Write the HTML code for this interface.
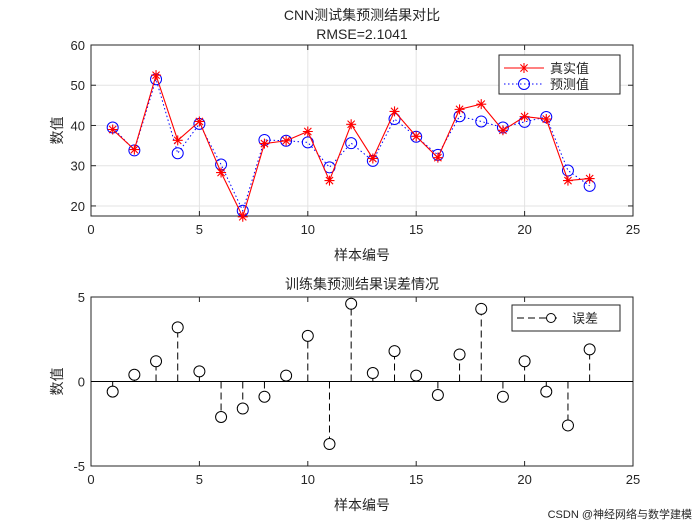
<!DOCTYPE html>
<html><head><meta charset="utf-8"><style>
body{margin:0;background:#fff}
svg text{font-family:"Liberation Sans","Noto Sans CJK SC",sans-serif;fill:#262626}
</style></head><body>
<svg id="c" width="700" height="525" xmlns="http://www.w3.org/2000/svg">
<rect width="700" height="525" fill="#fff"/>
<g id="topAx"></g>
<g id="botAx"></g>
</svg>
<script>
const xs = [1,2,3,4,5,6,7,8,9,10,11,12,13,14,15,16,17,18,19,20,21,22,23];
const trueVals = [39,34,52.5,36.3,41,28.3,17.3,35.5,36.2,38.5,26.3,40.3,31.8,43.5,37.3,32,44,45.3,38.8,42.2,41.6,26.3,26.8];
const predVals = [39.5,33.8,51.5,33.1,40.4,30.3,18.8,36.4,36.2,35.8,29.6,35.6,31.2,41.6,37.2,32.7,42.3,41,39.5,40.9,42.1,28.8,25];
const errVals = [-0.6,0.4,1.2,3.2,0.6,-2.1,-1.6,-0.9,0.35,2.7,-3.7,4.6,0.5,1.8,0.35,-0.8,1.6,4.3,-0.9,1.2,-0.6,-2.6,1.9];
const xTicks = [0,5,10,15,20,25];
const yTicksTop = [20,30,40,50,60];
const yTicksBot = [-5,0,5];

const NS="http://www.w3.org/2000/svg";
function mk(p,tag,a,txt){const e=document.createElementNS(NS,tag);for(const k in a)e.setAttribute(k,a[k]);if(txt!==undefined)e.textContent=txt;p.appendChild(e);return e;}
const L=91,R=633;
const sx=v=>L+(v-0)/(25-0)*(R-L);
const T1=45,B1=216,ymin1=17.5,ymax1=60;
const sy1=v=>B1-(v-ymin1)/(ymax1-ymin1)*(B1-T1);
const T2=297,B2=466;
const sy2=v=>B2-(v+5)/10*(B2-T2);
const svgEl=document.getElementById('c');
const gTop=document.getElementById('topAx'), gBot=document.getElementById('botAx');

let t=mk(svgEl,'text',{x:362,y:20,'text-anchor':'middle','font-size':14},'CNN测试集预测结果对比');


t=mk(svgEl,'text',{x:362,y:39,'text-anchor':'middle','font-size':14},'RMSE=2.1041');


t=mk(svgEl,'text',{x:362,y:289,'text-anchor':'middle','font-size':14},'训练集预测结果误差情况');



function axes(g,T,B,yt,sy,grid,xlY){
  if(grid){
    xTicks.forEach(v=>{const l=mk(g,'line',{x1:sx(v),x2:sx(v),y1:T,y2:B,stroke:'#e3e3e3'});});
    yt.forEach(v=>{const l=mk(g,'line',{x1:L,x2:R,y1:sy(v),y2:sy(v),stroke:'#e3e3e3'});});
  }
  const r=mk(g,'rect',{x:L,y:T,width:R-L,height:B-T,fill:'none',stroke:'#262626'});
  
  
  xTicks.forEach(v=>{
    mk(g,'line',{x1:sx(v),x2:sx(v),y1:B,y2:B-5,stroke:'#262626'});
    mk(g,'line',{x1:sx(v),x2:sx(v),y1:T,y2:T+5,stroke:'#262626'});
    const tx=mk(g,'text',{x:sx(v),y:B+18,'text-anchor':'middle','font-size':13},String(v));
    
    
  });
  yt.forEach(v=>{
    mk(g,'line',{x1:L,x2:L+5,y1:sy(v),y2:sy(v),stroke:'#262626'});
    mk(g,'line',{x1:R,x2:R-5,y1:sy(v),y2:sy(v),stroke:'#262626'});
    const tx=mk(g,'text',{x:L-6,y:sy(v)+5,'text-anchor':'end','font-size':13},String(v));
    
    
  });
  const xl=mk(g,'text',{x:362,y:xlY,'text-anchor':'middle','font-size':14},'样本编号');
  
  
  const yc=(T+B)/2;
  const yl=mk(g,'text',{x:62,y:yc,'text-anchor':'middle','font-size':14,transform:`rotate(-90 62 ${yc})`},'数值');
  
  
}
axes(gTop,T1,B1,yTicksTop,sy1,true,260);
axes(gBot,T2,B2,yTicksBot,sy2,false,510);

function star(g,x,y){
  const s=5;
  const d=`M${x-s} ${y}H${x+s}M${x} ${y-s}V${y+s}M${x-3.6} ${y-3.6}L${x+3.6} ${y+3.6}M${x-3.6} ${y+3.6}L${x+3.6} ${y-3.6}`;
  const p=mk(g,'path',{d:d,stroke:'#ff0000','stroke-width':1.1,fill:'none'});
  
  
}
const pd=xs.map((x,i)=>(i?'L':'M')+sx(x)+' '+sy1(predVals[i])).join('');
const pl=mk(gTop,'path',{d:pd,stroke:'#0000ff','stroke-width':1,fill:'none','stroke-dasharray':'1.5 2.5'});


xs.forEach((x,i)=>{const c=mk(gTop,'circle',{cx:sx(x),cy:sy1(predVals[i]),r:5.5,fill:'none',stroke:'#0000ff','stroke-width':1});

});
const td=xs.map((x,i)=>(i?'L':'M')+sx(x)+' '+sy1(trueVals[i])).join('');
const tl=mk(gTop,'path',{d:td,stroke:'#ff0000','stroke-width':1.1,fill:'none'});


xs.forEach((x,i)=>star(gTop,sx(x),sy1(trueVals[i])));

const lg=mk(gTop,'g',{});


mk(lg,'rect',{x:499,y:55,width:121,height:39,fill:'#fff',stroke:'#262626'});
mk(lg,'line',{x1:504,x2:544,y1:68,y2:68,stroke:'#ff0000','stroke-width':1.1});
star(lg,524,68);
mk(lg,'text',{x:550,y:73,'font-size':13},'真实值');
mk(lg,'line',{x1:504,x2:544,y1:84,y2:84,stroke:'#0000ff','stroke-dasharray':'1.5 2.5'});
mk(lg,'circle',{cx:524,cy:84,r:5.5,fill:'none',stroke:'#0000ff'});
mk(lg,'text',{x:550,y:89,'font-size':13},'预测值');

const zl=mk(gBot,'line',{x1:L,x2:R,y1:sy2(0),y2:sy2(0),stroke:'#000'});


xs.forEach((x,i)=>{
  const y=sy2(errVals[i]);const dir=errVals[i]>=0?1:-1;
  const st=mk(gBot,'line',{x1:sx(x),x2:sx(x),y1:sy2(0),y2:y+dir*5,stroke:'#000','stroke-dasharray':'7 4'});
  
  
  const c=mk(gBot,'circle',{cx:sx(x),cy:y,r:5.5,fill:'none',stroke:'#000'});
  
  
});
const lg2=mk(gBot,'g',{});


mk(lg2,'rect',{x:512,y:305,width:108,height:26,fill:'#fff',stroke:'#262626'});
mk(lg2,'line',{x1:517,x2:557,y1:318,y2:318,stroke:'#000','stroke-dasharray':'7 4'});
mk(lg2,'circle',{cx:551,cy:318,r:4.5,fill:'#fff',stroke:'#000'});
mk(lg2,'text',{x:572,y:323,'font-size':13},'误差');

const wm=mk(svgEl,'text',{x:692,y:518,'text-anchor':'end','font-size':11,fill:'#999'},'CSDN @神经网络与数学建模');


</script>
</body></html>
